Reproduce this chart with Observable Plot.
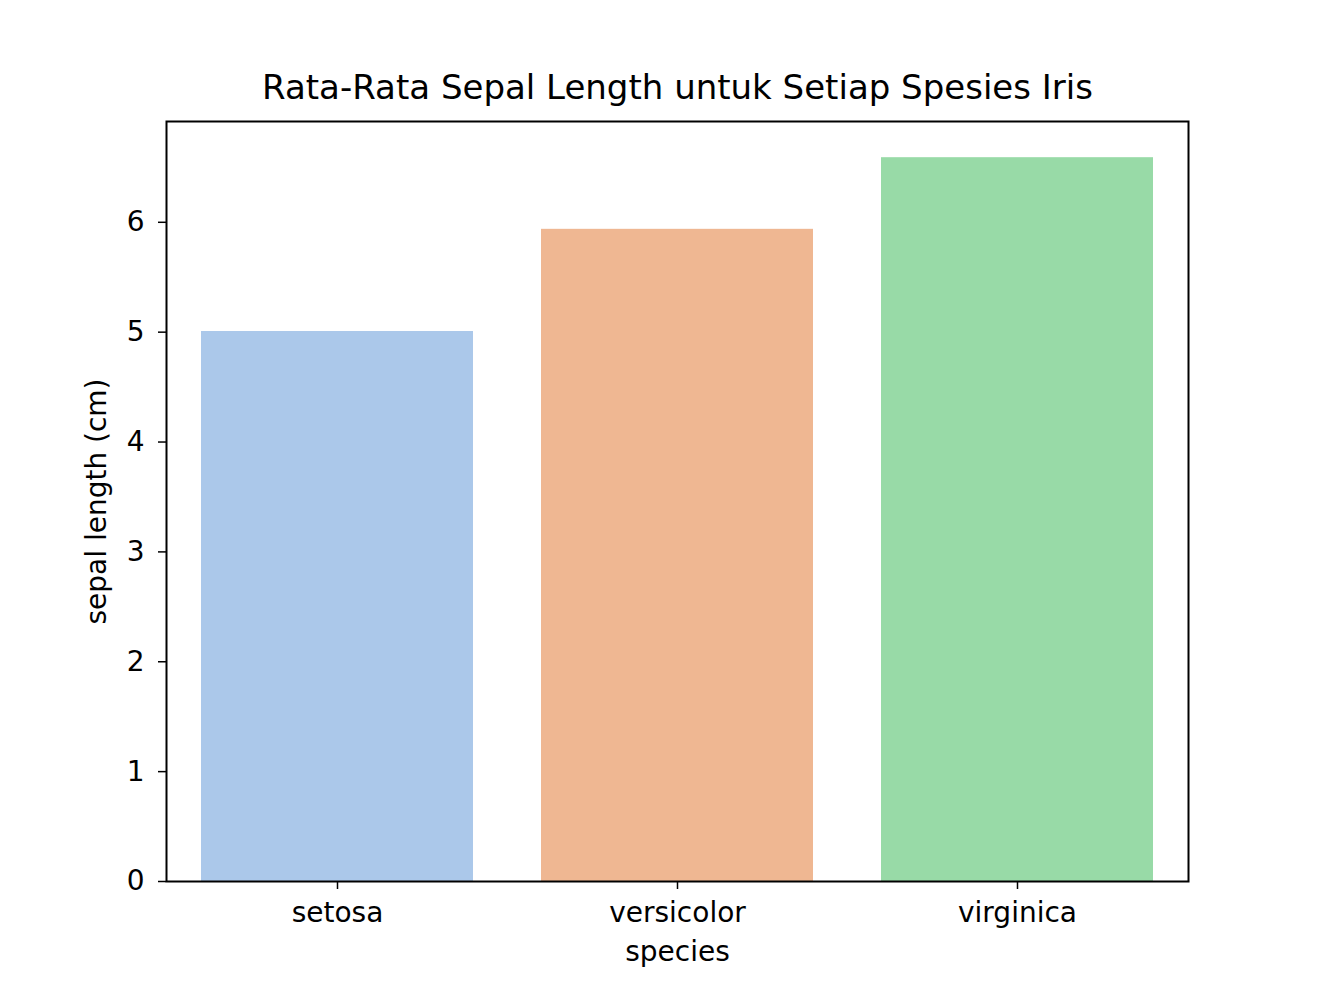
<!DOCTYPE html>
<html>
<head>
<meta charset="utf-8">
<script src="https://cdn.jsdelivr.net/npm/d3@7"></script>
<script src="https://cdn.jsdelivr.net/npm/@observablehq/plot@0.6"></script>
<style>
  html, body { margin: 0; padding: 0; background: #fff; }
  #chart svg { display: block; }
</style>
</head>
<body>
<div id="chart"></div>
<script>
const species = ["setosa", "versicolor", "virginica"];
const meanSepalLength = [5.006, 5.936, 6.588];
const barColors = ["#abc8ea", "#efb792", "#98daa7"];
const yTicks = [0, 1, 2, 3, 4, 5, 6];
const titleText = "Rata-Rata Sepal Length untuk Setiap Spesies Iris";
const xLabel = "species";
const yLabel = "sepal length (cm)";

const data = species.map((s, i) => ({species: s, value: meanSepalLength[i]}));
const font = "DejaVu Sans, sans-serif";

const plot = Plot.plot({
  width: 1320,
  height: 990,
  marginLeft: 166,
  marginRight: 132,
  marginTop: 121,
  marginBottom: 109,
  style: {fontFamily: font, fontSize: "28px", color: "#000", background: "#fff"},
  x: {type: "band", domain: species, paddingInner: 0.2, paddingOuter: 0.1, align: 0.5},
  y: {domain: [0, d3.max(meanSepalLength) * 1.05]},
  color: {domain: species, range: barColors},
  marks: [
    Plot.barY(data, {x: "species", y: "value", fill: "species"}),
    Plot.axisX({tickSize: 8, tickPadding: 13, label: null, fontSize: 28, strokeWidth: 1.5}),
    Plot.axisY({ticks: yTicks, tickSize: 8, tickPadding: 14, label: null, fontSize: 28, strokeWidth: 1.5, tickFormat: d3.format("d")}),
    Plot.frame({stroke: "#000", strokeWidth: 2}),
    Plot.text([titleText], {frameAnchor: "top", dy: -33, lineAnchor: "middle", fontSize: 34, text: d => d}),
    Plot.text([xLabel], {frameAnchor: "bottom", dy: 71, lineAnchor: "middle", fontSize: 28, text: d => d}),
    Plot.text([yLabel], {frameAnchor: "left", dx: -69, rotate: -90, textAnchor: "middle", lineAnchor: "middle", fontSize: 28, text: d => d})
  ]
});
document.getElementById("chart").appendChild(plot);
</script>
</body>
</html>
